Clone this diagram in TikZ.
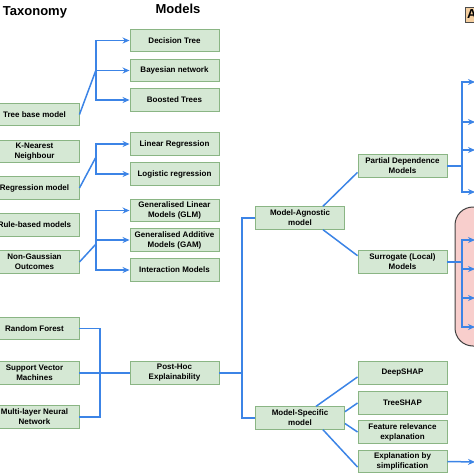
\documentclass[tikz,border=0pt]{standalone}
\usepackage{fontspec}
\setmainfont{Liberation Sans}
\usepackage{tikz}
\usetikzlibrary{arrows.meta}
\definecolor{boxfill}{HTML}{D5E8D4}
\definecolor{boxline}{HTML}{8AB584}
\definecolor{linkcol}{HTML}{3C84E6}
\definecolor{pinkfill}{HTML}{F8CECC}
\definecolor{orangefill}{HTML}{F5CFA0}
\tikzset{>={Stealth[length=7pt,width=6pt]}}

\begin{document}
\begin{tikzpicture}[x=1pt,y=-1pt,
  mbox/.style={draw=boxline,fill=boxfill,line width=0.9pt,minimum width=89pt,minimum height=22.5pt,
    inner sep=1pt,align=center,font=\fontsize{8}{10}\selectfont\bfseries},
  heading/.style={font=\fontsize{13}{15}\selectfont\bfseries},
  link/.style={draw=linkcol,line width=1.5pt}]

\useasboundingbox (0,0) rectangle (474,474);
\clip (0,0) rectangle (474,474);

% Headings
\node[heading] (taxo) at (35,12) {Taxonomy};
\node[heading] (models) at (178,9) {Models};

% Box at the top right
\draw[fill=orangefill,draw=black!70,line width=0.8pt] (465,7) rectangle (500,22);
\node[heading,anchor=west,inner sep=0pt] (agn) at (467,14.5) {A};

% Rounded panel on the right
\draw[fill=pinkfill,draw=black!75,line width=1pt,rounded corners=18pt] (455,207) rectangle (520,346);

% Taxonomy column
\node[mbox] (treebase) at (34.5,114.5) {Tree base model};
\node[mbox] (knn)      at (34.5,151.5) {K-Nearest\\Neighbour};
\node[mbox] (regm)     at (34.5,188)   {Regression model};
\node[mbox] (rule)     at (34.5,225)   {Rule-based models};
\node[mbox] (nongauss) at (34.5,262)   {Non-Gaussian\\Outcomes};
\node[mbox] (rf)       at (34.5,328.5) {Random Forest};
\node[mbox] (svm)      at (34.5,373)   {Support Vector\\Machines};
\node[mbox] (mlnn)     at (34.5,417)   {Multi-layer Neural\\Network};

% Models column
\node[mbox] (dt)   at (174.5,40.5) {Decision Tree};
\node[mbox] (bn)   at (174.5,70.5) {Bayesian network};
\node[mbox] (bt)   at (174.5,100)  {Boosted Trees};
\node[mbox] (lr)   at (174.5,144)  {Linear Regression};
\node[mbox] (logr) at (174.5,174)  {Logistic regression};
\node[mbox] (glm)  at (174.5,210.5) {Generalised Linear\\Models (GLM)};
\node[mbox] (gam)  at (174.5,240)  {Generalised Additive\\Models (GAM)};
\node[mbox] (im)   at (174.5,270)  {Interaction Models};
\node[mbox] (ph)   at (174.5,373)  {Post-Hoc\\Explainability};

% Model types
\node[mbox] (ma) at (300,218) {Model-Agnostic\\model};
\node[mbox] (ms) at (300,418) {Model-Specific\\model};

% Methods
\node[mbox] (pd)   at (402.5,166)   {Partial Dependence\\Models};
\node[mbox] (sur)  at (402.5,262)   {Surrogate (Local)\\Models};
\node[mbox] (deep) at (402.5,373)   {DeepSHAP};
\node[mbox] (tree) at (402.5,403)   {TreeSHAP};
\node[mbox] (fr)   at (402.5,432)   {Feature relevance\\explanation};
\node[mbox] (es)   at (402.5,461.5) {Explanation by\\simplification};

% Tree based models
\coordinate (jtree) at (96,70);
\draw[link] (treebase.east) -- (jtree);
\foreach \m in {dt,bn,bt} \draw[link,->] (jtree) |- (\m.west);

% Regression models
\coordinate (jreg) at (96,157);
\draw[link] (regm.east) -- (jreg);
\foreach \m in {lr,logr} \draw[link,->] (jreg) |- (\m.west);

% Non-Gaussian outcomes
\coordinate (jglm) at (96,244);
\draw[link] (nongauss.east) -- (jglm);
\foreach \m in {glm,gam,im} \draw[link,->] (jglm) |- (\m.west);

% Into Post-Hoc
\coordinate (jph) at (100,373);
\draw[link] (rf.east) -| (jph) |- (mlnn.east);
\draw[link] (svm.east) -- (ph.west);

% Post-Hoc to model types
\coordinate (jtype) at (242,373);
\draw[link] (ph.east) -- (jtype);
\draw[link] (jtype) |- (ma.west);
\draw[link] (jtype) |- (ms.west);

% Model-Agnostic branches
\draw[link] (ma.27) -- (pd.188);
\draw[link] (ma.-27) -- (sur.172);

% Model-Specific branches
\draw[link] (ms.36) -- (deep.185);
\draw[link] (ms.8) -- (tree.west);
\draw[link] (ms.-7) -- (fr.west);
\draw[link] (ms.-27) -- (es.187);

% Outgoing arrows
\foreach \i/\y in {1/82,2/122,3/150,4/192} \coordinate (pdout\i) at (475,\y);
\foreach \i/\y in {1/240,2/269,3/298,4/327} \coordinate (surout\i) at (475,\y);
\coordinate (esout) at (475,462);

\coordinate (jpd) at (462,166);
\draw[link] (pd.east) -- (jpd);
\foreach \i in {1,...,4} \draw[link,->] (jpd) |- (pdout\i);

\coordinate (jsur) at (462,262);
\draw[link] (sur.east) -- (jsur);
\foreach \i in {1,...,4} \draw[link,->] (jsur) |- (surout\i);

\draw[link,->] (es.east) -- (esout);

\end{tikzpicture}
\end{document}
